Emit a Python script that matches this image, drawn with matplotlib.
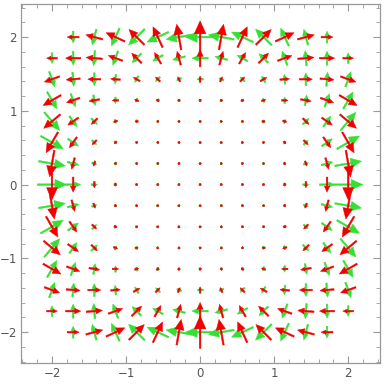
import numpy as np
import matplotlib.pyplot as plt
from matplotlib.patches import FancyArrow

nan = np.nan

# one quadrant (x from -2 to 0, y from 2 down to 0)
# red arrow direction in degrees, lengths in pixels
red_angle = [
    [nan, 180, 165, 155, 135, 115, 100, 90],
    [180, 180, 175, 160, 135, 120, 105, 90],
    [200, 185, 180, 175, 150, 135, 115, 90],
    [210, 200, 190, 180, 160, 135, 120, 90],
    [220, 215, 225, 200, 180, 150, 120, 90],
    [240, 235, 225, 225, 200, 180, 135, 90],
    [260, 255, 250, 240, 225, 200, 180, 90],
    [270, 270, 270, 270, 270, 270, 270, 270],
]
red_len = [
    [0, 11, 16, 19, 20, 21, 24, 30],
    [10, 14, 15, 14, 13, 12, 13, 16],
    [15, 13, 12, 9, 7, 6, 5, 6],
    [19, 13, 10, 6, 4, 3, 2.5, 2.5],
    [20, 12, 8, 4, 3, 2, 2, 2],
    [22, 12, 6, 3, 2, 2, 2, 2],
    [25, 11, 5, 2.5, 2, 2, 2, 2],
    [28, 14, 6, 3, 2, 2, 2, 2],
]
green_len = [
    [0, 11, 15, 18, 21, 22, 24, 27],
    [10, 13, 14, 14, 12, 11, 12, 15],
    [15, 13, 12, 9, 7, 6, 5, 6],
    [18, 13, 10, 6, 4, 3, 2.5, 2.5],
    [22, 12, 8, 4, 3, 2, 2, 2],
    [24, 12, 6, 3, 2, 2, 2, 2],
    [25, 11, 5, 2.5, 2, 2, 2, 2],
    [27, 14, 6, 3, 2, 2, 2, 2],
]

pts = np.linspace(-2, 2, 15)
px = 68.0  # pixels per unit, a bit under the axis scale so arrows come out a little longer

fig = plt.figure(figsize=(3.87, 3.88), dpi=100)
ax = fig.add_axes([0.054, 0.064, 0.928, 0.926])


def arrow(x, y, vx, vy, c):
    L = np.hypot(vx, vy)
    if L == 0:
        return
    ax.add_patch(FancyArrow(x - vx / 2, y - vy / 2, vx, vy, width=0.022,
                            head_width=max(0.36 * L, 0.035), head_length=0.4 * L,
                            length_includes_head=True, color=c, lw=0.3))


reds, greens = [], []
for J in range(15):
    y = pts[14 - J]
    r = min(J, 14 - J)
    for I in range(15):
        x = pts[I]
        c = min(I, 14 - I)
        a = red_angle[r][c]
        if np.isnan(a):
            continue
        t = np.radians(a)
        u, v = red_len[r][c] / px * np.cos(t), red_len[r][c] / px * np.sin(t)
        gx, gy = green_len[r][c] / px * np.cos(t + np.pi / 2), green_len[r][c] / px * np.sin(t + np.pi / 2)
        nflip = (I > 7) + (J > 7)
        if nflip == 1:
            u = -u
            gy = -gy
        reds.append((x, y, u, v))
        greens.append((x, y, gx, gy))

for g in greens:
    arrow(*g, '#33e033')
for rd in reds:
    arrow(*rd, '#f00000')

ax.set_xlim(-2.42, 2.43)
ax.set_ylim(-2.42, 2.45)
ax.set_xticks([-2, -1, 0, 1, 2])
ax.set_yticks([-2, -1, 0, 1, 2])
ax.set_xticklabels(['\u22122', '\u22121', '0', '1', '2'])
ax.set_yticklabels(['\u22122', '\u22121', '0', '1', '2'])
ax.set_xticks(np.arange(-2.4, 2.5, 0.2), minor=True)
ax.set_yticks(np.arange(-2.4, 2.5, 0.2), minor=True)
ax.tick_params(which='both', direction='in', top=True, right=True, color='#999999',
               labelsize=8.5, labelcolor='#555555', pad=3)
ax.tick_params(which='major', length=5, width=0.8)
ax.tick_params(which='minor', length=3, width=0.6)
for s in ax.spines.values():
    s.set_color('#999999')
    s.set_linewidth(0.9)

fig.savefig('out.png', dpi=100)
